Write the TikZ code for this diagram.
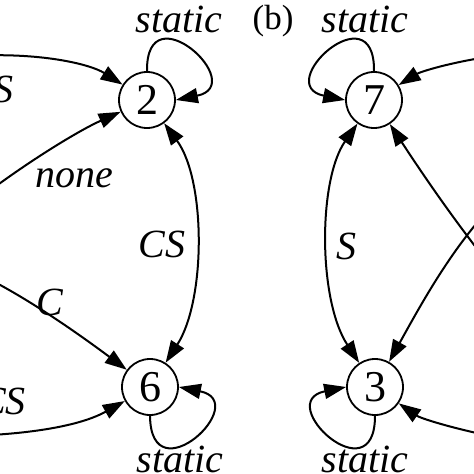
\documentclass[tikz,border=0pt]{standalone}
\usepackage{fontspec}
\setmainfont{Liberation Serif}
\usetikzlibrary{arrows.meta}
\begin{document}
\begin{tikzpicture}[x=1pt,y=-1pt,
  >={Triangle[length=22pt,width=15pt]},
  state/.style={circle,draw,line width=1.8pt,minimum size=56pt,inner sep=0pt,font=\fontsize{44}{44}\selectfont},
  edge/.style={line width=2pt,->},
  biedge/.style={line width=2pt,<->},
  lbl/.style={font=\fontsize{40}{40}\selectfont\itshape,anchor=base,inner sep=0pt},
  plain/.style={font=\fontsize{35}{35}\selectfont,inner sep=0pt}]
\useasboundingbox (0,0) rectangle (474,474);
\clip (0,0) rectangle (474,474);

% states
\node[state] (n2) at (147,100) {2};
\node[state] (n6) at (150,387) {6};
\node[state] (n7) at (374,100) {7};
\node[state] (n3) at (375,387) {3};

% off-picture ends
\coordinate (a1) at (-30,56);
\coordinate (a2) at (-20,198);
\coordinate (a3) at (-30,270);
\coordinate (a4) at (-30,436);
\coordinate (b1) at (500,55);
\coordinate (b2) at (492,268);
\coordinate (b3) at (492,206);
\coordinate (b4) at (500,438);

% panel (a) side
\draw[edge] (a1) .. controls (40,52) and (90,64) .. (n2);
\draw[edge] (a2) .. controls (30,160) and (80,130) .. (n2);
\draw[edge] (a3) .. controls (20,292) and (80,335) .. (n6);
\draw[edge] (a4) .. controls (30,434) and (80,426) .. (n6);
\draw[biedge] (n2) .. controls (206,180) and (206,300) .. (n6);

% loops
\draw[edge] (n2.north) .. controls (146,-10) and (250,85) .. (n2.east);
\draw[edge] (n6.south) .. controls (151,497) and (253,402) .. (n6.east);
\draw[edge] (n7.north) .. controls (375,-10) and (271,85) .. (n7.west);
\draw[edge] (n3.south) .. controls (375,497) and (272,402) .. (n3.west);

% panel (b) side
\draw[biedge] (n7) .. controls (318,180) and (318,300) .. (n3);
\draw[edge] (b1) .. controls (450,62) and (420,72) .. (n7);
\draw[edge] (b2) .. controls (450,215) and (420,170) .. (n7);
\draw[edge] (b3) .. controls (450,250) and (418,310) .. (n3);
\draw[edge] (b4) .. controls (450,428) and (420,418) .. (n3);

% labels
\node[lbl] (s2) at (179,32) {static};
\node[lbl] (s7) at (365,32) {static};
\node[lbl] (s6) at (180,472) {static};
\node[lbl] (s3) at (365,472) {static};
\node[plain] (pb) at (273,21) {(b)};
\node[lbl] (lnone) at (74,187) {none};
\node[lbl] (lcs) at (162,257) {CS};
\node[lbl] (lc) at (50,315) {C};
\node[lbl] (ls) at (346,259) {S};
\node[lbl,anchor=base east] (lcs1) at (14,102) {CS};
\node[lbl,anchor=base east] (lcs2) at (26,414) {CS};
\end{tikzpicture}
\end{document}
